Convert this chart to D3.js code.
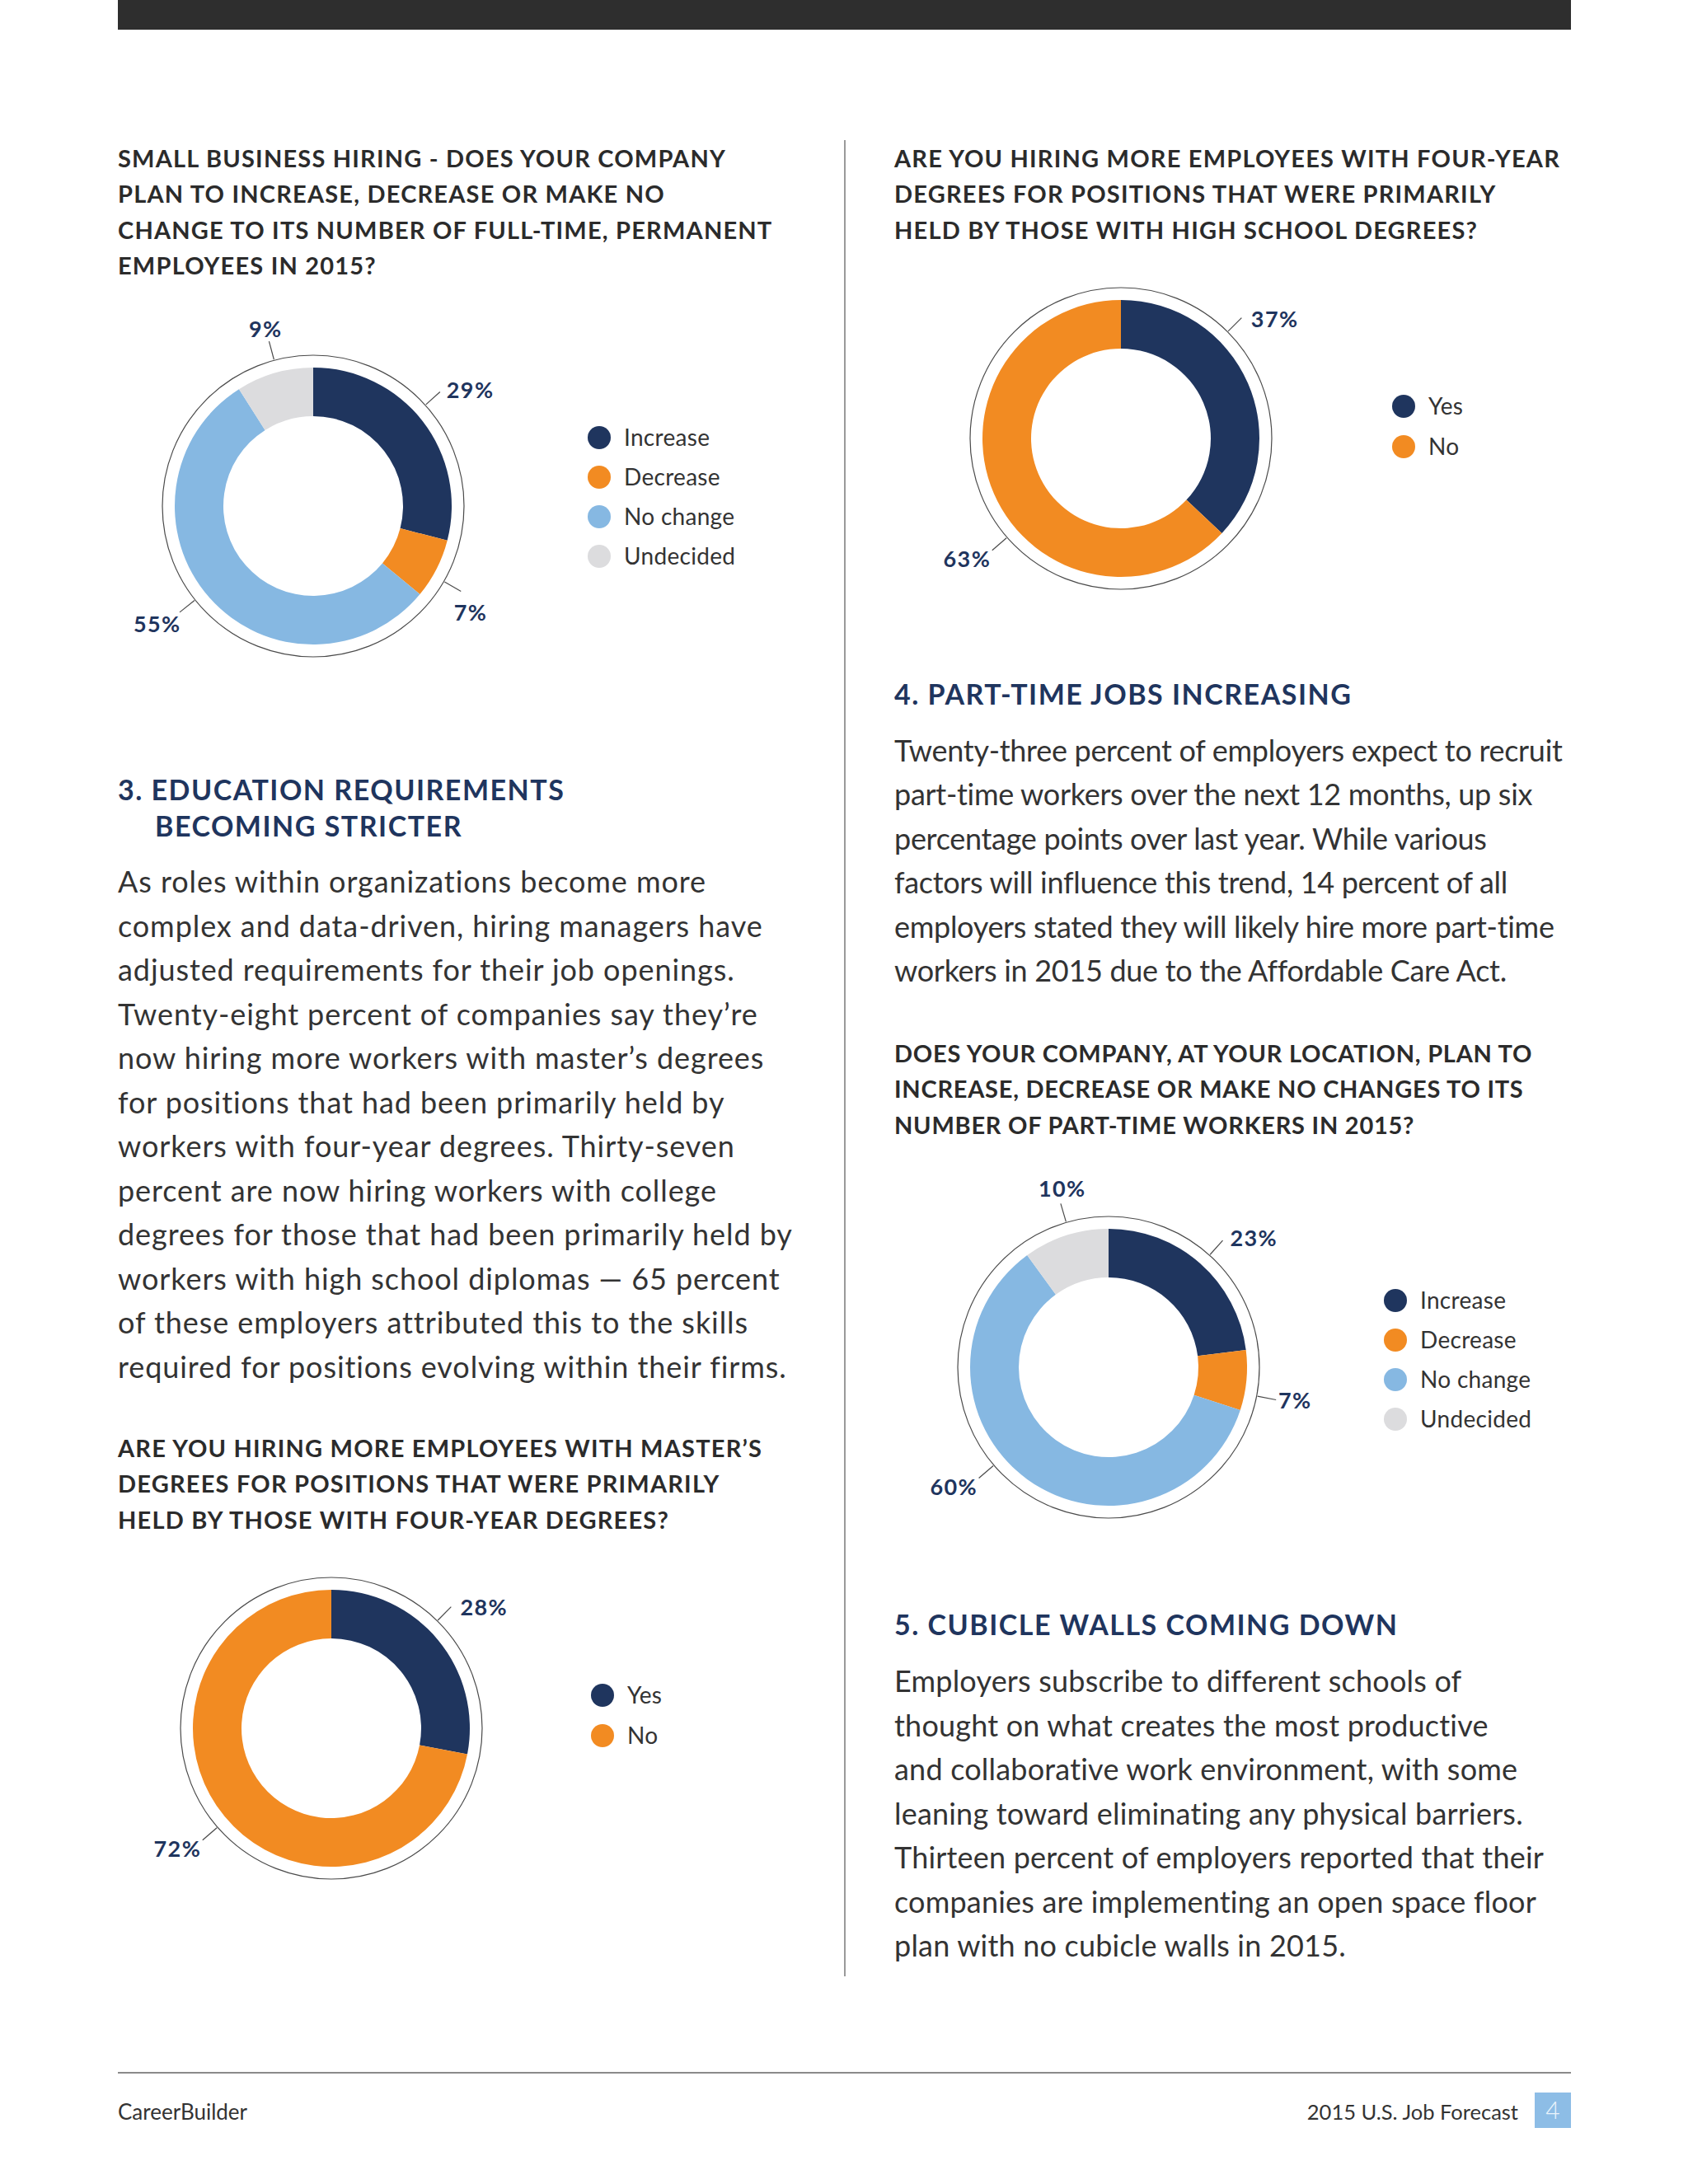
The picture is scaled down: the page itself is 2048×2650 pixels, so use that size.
<!DOCTYPE html>
<html>
<head>
<meta charset="utf-8">
<script src="https://cdn.jsdelivr.net/npm/d3@7"></script>
<style>
  html, body { margin: 0; padding: 0; background: #ffffff; }
  svg { display: block; }
</style>
</head>
<body>
<script>
// ---------------- DATA ----------------
const fullTimeCategories = ["Increase", "Decrease", "No change", "Undecided"];
const fullTimeValues = [29, 7, 55, 9];

const highSchoolCategories = ["Yes", "No"];
const highSchoolValues = [37, 63];

const mastersCategories = ["Yes", "No"];
const mastersValues = [28, 72];

const partTimeCategories = ["Increase", "Decrease", "No change", "Undecided"];
const partTimeValues = [23, 7, 60, 10];

const fullTimeTitle = [
  "SMALL BUSINESS HIRING - DOES YOUR COMPANY",
  "PLAN TO INCREASE, DECREASE OR MAKE NO",
  "CHANGE TO ITS NUMBER OF FULL-TIME, PERMANENT",
  "EMPLOYEES IN 2015?"
];
const highSchoolTitle = [
  "ARE YOU HIRING MORE EMPLOYEES WITH FOUR-YEAR",
  "DEGREES FOR POSITIONS THAT WERE PRIMARILY",
  "HELD BY THOSE WITH HIGH SCHOOL DEGREES?"
];
const mastersTitle = [
  "ARE YOU HIRING MORE EMPLOYEES WITH MASTER’S",
  "DEGREES FOR POSITIONS THAT WERE PRIMARILY",
  "HELD BY THOSE WITH FOUR-YEAR DEGREES?"
];
const partTimeTitle = [
  "DOES YOUR COMPANY, AT YOUR LOCATION, PLAN TO",
  "INCREASE, DECREASE OR MAKE NO CHANGES TO ITS",
  "NUMBER OF PART-TIME WORKERS IN 2015?"
];

const section3Heading = ["3. EDUCATION REQUIREMENTS", "BECOMING STRICTER"];
const section3Body = [
  "As roles within organizations become more",
  "complex and data-driven, hiring managers have",
  "adjusted requirements for their job openings.",
  "Twenty-eight percent of companies say they’re",
  "now hiring more workers with master’s degrees",
  "for positions that had been primarily held by",
  "workers with four-year degrees. Thirty-seven",
  "percent are now hiring workers with college",
  "degrees for those that had been primarily held by",
  "workers with high school diplomas — 65 percent",
  "of these employers attributed this to the skills",
  "required for positions evolving within their firms."
];
const section4Heading = ["4. PART-TIME JOBS INCREASING"];
const section4Body = [
  "Twenty-three percent of employers expect to recruit",
  "part-time workers over the next 12 months, up six",
  "percentage points over last year. While various",
  "factors will influence this trend, 14 percent of all",
  "employers stated they will likely hire more part-time",
  "workers in 2015 due to the Affordable Care Act."
];
const section5Heading = ["5. CUBICLE WALLS COMING DOWN"];
const section5Body = [
  "Employers subscribe to different schools of",
  "thought on what creates the most productive",
  "and collaborative work environment, with some",
  "leaning toward eliminating any physical barriers.",
  "Thirteen percent of employers reported that their",
  "companies are implementing an open space floor",
  "plan with no cubicle walls in 2015."
];
const footerLeft = "CareerBuilder";
const footerRight = "2015 U.S. Job Forecast";
const pageNumber = "4";

// ---------------- STYLE / LAYOUT ----------------
const W = 2048, H = 2650;
const FONT = "Lato, 'Open Sans', sans-serif";
const colorScale = d3.scaleOrdinal()
  .domain(["Increase", "Decrease", "No change", "Undecided", "Yes", "No"])
  .range(["#1f355e", "#f28b22", "#86b8e2", "#dcdcde", "#1f355e", "#f28b22"]);

// leaderAngles / textAngles: degrees clockwise from 12 o'clock (label placement only)
const charts = [
  { cats: fullTimeCategories, vals: fullTimeValues, title: fullTimeTitle, titleLs: 1.2,
    tx: 143, ty: 203, cx: 380, cy: 614, lx: 727, ly: 531, lstep: 48,
    leaderAngles: [48, 120, 231.5, 345], textAngles: [53.5, 124, 233, 345] },
  { cats: highSchoolCategories, vals: highSchoolValues, title: highSchoolTitle, titleLs: 1.2,
    tx: 1085, ty: 203, cx: 1360, cy: 532, lx: 1703, ly: 493, lstep: 49,
    leaderAngles: [45, 229], textAngles: [52, 232] },
  { cats: mastersCategories, vals: mastersValues, title: mastersTitle, titleLs: 1.2,
    tx: 143, ty: 1768, cx: 402, cy: 2097, lx: 731, ly: 2057, lstep: 49,
    leaderAngles: [44.6, 229], textAngles: [51.5, 232] },
  { cats: partTimeCategories, vals: partTimeValues, title: partTimeTitle, titleLs: 0.75,
    tx: 1085, ty: 1289, cx: 1345, cy: 1659, lx: 1693, ly: 1578, lstep: 48,
    leaderAngles: [42, 101, 229.5, 343.7], textAngles: [48.3, 100, 232.4, 345.5] }
];

const svg = d3.select("body").append("svg")
  .attr("width", W).attr("height", H)
  .attr("viewBox", `0 0 ${W} ${H}`);

svg.append("rect").attr("width", W).attr("height", H).attr("fill", "#ffffff");

// top bar
svg.append("rect").attr("x", 143).attr("y", 0).attr("width", 1763).attr("height", 36).attr("fill", "#2e2e2e");

// divider
svg.append("line").attr("x1", 1025).attr("x2", 1025).attr("y1", 170).attr("y2", 2398)
  .attr("stroke", "#9a9a9a").attr("stroke-width", 2);

// footer line
svg.append("line").attr("x1", 143).attr("x2", 1906).attr("y1", 2515).attr("y2", 2515)
  .attr("stroke", "#8a8a8a").attr("stroke-width", 2);

function textBlock(lines, x, y, step, opts) {
  const g = svg.append("g");
  g.selectAll("text").data(lines).join("text")
    .attr("x", (d, i) => x + (opts.indent && i > 0 ? opts.indent : 0))
    .attr("y", (d, i) => y + i * step)
    .attr("font-family", FONT)
    .attr("font-size", opts.size)
    .attr("font-weight", opts.weight || 400)
    .attr("letter-spacing", opts.ls || 0)
    .attr("fill", opts.fill)
    .text(d => d);
  return g;
}

// Section headings and bodies
textBlock(section3Heading, 143, 971, 44, { size: 34, weight: 700, ls: 1.5, fill: "#1f355e", indent: 45 });
textBlock(section3Body, 143, 1083, 53.5, { size: 36, weight: 400, ls: 0.92, fill: "#333333" });
textBlock(section4Heading, 1085, 855, 44, { size: 34, weight: 700, ls: 1.5, fill: "#1f355e" });
textBlock(section4Body, 1085, 924, 53.4, { size: 36, weight: 400, ls: -0.3, fill: "#333333" });
textBlock(section5Heading, 1085, 1984, 44, { size: 34, weight: 700, ls: 1.5, fill: "#1f355e" });
textBlock(section5Body, 1085, 2053, 53.5, { size: 36, weight: 400, ls: 0.2, fill: "#333333" });

// Charts
const pie = d3.pie().sort(null).value(d => d).startAngle(0).endAngle(2 * Math.PI);
const arc = d3.arc().innerRadius(109).outerRadius(168);
const rad = deg => deg * Math.PI / 180;
const LEAD_IN = 184, LEAD_OUT = 207, LABEL_HALF_H = 10, LABEL_GAP = 1;

charts.forEach(c => {
  textBlock(c.title, c.tx, c.ty, 43.4, { size: 29, weight: 700, ls: c.titleLs, fill: "#2b2b2b" });

  const g = svg.append("g").attr("transform", `translate(${c.cx},${c.cy})`);
  g.append("circle").attr("r", 183).attr("fill", "none").attr("stroke", "#4a4a4a").attr("stroke-width", 1.2);

  const arcs = pie(c.vals);
  g.selectAll("path.slice").data(arcs).join("path")
    .attr("class", "slice")
    .attr("d", arc)
    .attr("fill", (d, i) => colorScale(c.cats[i]));

  // leaders
  g.selectAll("line.leader").data(arcs).join("line")
    .attr("class", "leader")
    .attr("x1", (d, i) => Math.sin(rad(c.leaderAngles[i])) * LEAD_IN)
    .attr("y1", (d, i) => -Math.cos(rad(c.leaderAngles[i])) * LEAD_IN)
    .attr("x2", (d, i) => Math.sin(rad(c.leaderAngles[i])) * LEAD_OUT)
    .attr("y2", (d, i) => -Math.cos(rad(c.leaderAngles[i])) * LEAD_OUT)
    .attr("stroke", "#4a4a4a").attr("stroke-width", 1.2);

  // labels: placed just beyond the leader end, offset by their own box extent
  g.selectAll("text.pct").data(arcs).join("text")
    .attr("class", "pct")
    .attr("text-anchor", "middle")
    .attr("dominant-baseline", "central")
    .attr("font-family", FONT).attr("font-size", 27).attr("font-weight", 700)
    .attr("letter-spacing", 1.4)
    .attr("fill", "#1f355e")
    .text(d => d.data + "%")
    .each(function (d, i) {
      const a = rad(c.textAngles[i]);
      const s = Math.sin(a), co = -Math.cos(a);
      const w = this.getComputedTextLength();
      const r = LEAD_OUT + LABEL_GAP + Math.abs(s) * w / 2 + Math.abs(co) * LABEL_HALF_H;
      d3.select(this).attr("x", s * r).attr("y", co * r);
    });

  // legend
  const lg = svg.append("g").attr("transform", `translate(${c.lx},${c.ly})`);
  const items = lg.selectAll("g").data(c.cats).join("g")
    .attr("transform", (d, i) => `translate(0,${i * c.lstep})`);
  items.append("circle").attr("r", 14).attr("fill", d => colorScale(d));
  items.append("text").attr("x", 30).attr("y", 0).attr("dy", "0.35em")
    .attr("font-family", FONT).attr("font-size", 28).attr("letter-spacing", 0.3)
    .attr("fill", "#333333").text(d => d);
});

// footer
svg.append("text").attr("x", 143).attr("y", 2572)
  .attr("font-family", FONT).attr("font-size", 26).attr("fill", "#333333").text(footerLeft);
svg.append("text").attr("x", 1842).attr("y", 2572).attr("text-anchor", "end")
  .attr("font-family", FONT).attr("font-size", 25.5).attr("fill", "#333333").text(footerRight);
svg.append("rect").attr("x", 1862).attr("y", 2539).attr("width", 44).attr("height", 43).attr("fill", "#8dbde6");
svg.append("text").attr("x", 1884).attr("y", 2571).attr("text-anchor", "middle")
  .attr("font-family", FONT).attr("font-size", 30).attr("font-weight", 300).attr("fill", "#eaf3fb").text(pageNumber);
</script>
</body>
</html>
